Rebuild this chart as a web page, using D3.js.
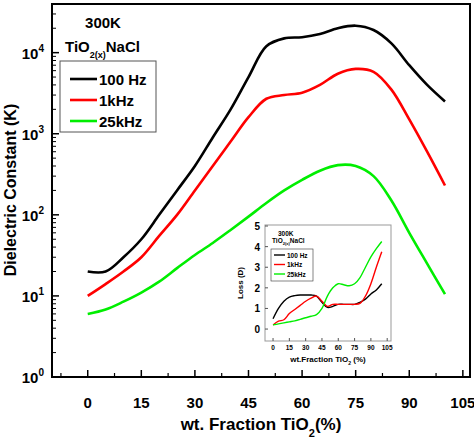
<!DOCTYPE html><html><head><meta charset="utf-8"><script src="https://d3js.org/d3.v7.min.js"></script>
<style>body{margin:0;background:#fff}text{font-family:Arial,"Liberation Sans",sans-serif;font-weight:bold}</style></head><body><svg id="c" width="474" height="444"></svg>
<script>
const xs=[0,5,10,15,20,25,30,35,40,45,50,55,60,65,70,75,80,85,90,95,100];
const k100=[20,20,30,50,100,200,400,900,2000,5000,12000,15000,15500,17000,20000,21500,19000,13000,7000,4000,2500];
const k1k=[10,14,20,30,55,100,200,400,800,1600,2700,3000,3200,4000,5500,6300,5800,3500,1500,600,230];
const k25k=[6,6.8,8.5,11,15,22,32,45,65,95,140,200,270,350,410,400,300,150,60,25,10.5];
const l100=[0.5,1.0,1.35,1.55,1.62,1.65,1.65,1.65,1.6,1.3,1.05,1.1,1.2,1.2,1.2,1.2,1.3,1.45,1.7,1.9,2.2];
const l1k=[0.2,0.38,0.45,0.75,0.95,1.15,1.35,1.5,1.6,1.35,1.1,1.2,1.2,1.2,1.2,1.2,1.25,1.6,2.2,3.0,3.75];
const l25k=[0.2,0.25,0.3,0.35,0.4,0.47,0.55,0.62,0.7,1.0,1.6,2.0,2.2,2.15,2.1,2.2,2.5,3.0,3.5,3.9,4.25];
const names=["100 Hz","1kHz","25kHz"],cols=["#000","#f00","#0e0"];
const xTicks=[0,15,30,45,60,75,90,105];
const svg=d3.select("#c");
const L=52,R=470,T=4,B=377;
const x=d3.scaleLinear().domain([-10,107]).range([L,R]);
const y=d3.scaleLog().domain([1,Math.pow(10,4.6)]).range([B,T]);
const g=svg.append("g");
g.append("rect").attr("x",L).attr("y",T).attr("width",R-L).attr("height",B-T).attr("fill","none").attr("stroke","#000").attr("stroke-width",2);
xTicks.forEach(t=>{g.append("line").attr("x1",x(t)).attr("x2",x(t)).attr("y1",B).attr("y2",B-7).attr("stroke","#000").attr("stroke-width",1.5);
 g.append("text").attr("x",x(t)).attr("y",B+31).attr("text-anchor","middle").attr("font-size",15).text(t);});
d3.range(-7.5,107,15).forEach(t=>g.append("line").attr("x1",x(t)).attr("x2",x(t)).attr("y1",B).attr("y2",B-4).attr("stroke","#000").attr("stroke-width",1.2));
for(let e=0;e<=4;e++){g.append("line").attr("x1",L).attr("x2",L+7).attr("y1",y(10**e)).attr("y2",y(10**e)).attr("stroke","#000").attr("stroke-width",1.5);
 const t=g.append("text").attr("x",L-8).attr("y",y(10**e)+6).attr("text-anchor","end").attr("font-size",15);t.append("tspan").text("10");t.append("tspan").attr("dy",-7).attr("font-size",10).text(e);
 for(let m=2;m<10;m++){const v=m*10**e;if(y(v)>T)g.append("line").attr("x1",L).attr("x2",L+4).attr("y1",y(v)).attr("y2",y(v)).attr("stroke","#000");}}
const xl=g.append("text").attr("x",261).attr("y",430).attr("text-anchor","middle").attr("font-size",17);
xl.append("tspan").text("wt. Fraction TiO");xl.append("tspan").attr("dy",7).attr("font-size",11).text("2");xl.append("tspan").attr("dy",-7).text("(%)");
g.append("text").attr("transform","translate(16,190) rotate(-90)").attr("text-anchor","middle").attr("font-size",16).text("Dielectric Constant (K)");
const line=d3.line().x((d,i)=>x(xs[i])).y(d=>y(d)).curve(d3.curveCatmullRom);
[k100,k1k,k25k].forEach((s,i)=>g.append("path").attr("d",line(s)).attr("fill","none").attr("stroke",cols[i]).attr("stroke-width",2.6));
g.append("text").attr("x",103).attr("y",28).attr("text-anchor","middle").attr("font-size",15).text("300K");
const tt=g.append("text").attr("x",65).attr("y",52).attr("font-size",15);tt.append("tspan").text("TiO");tt.append("tspan").attr("dy",6).attr("font-size",9).text("2(x)");tt.append("tspan").attr("dy",-6).text("NaCl");
g.append("rect").attr("x",60).attr("y",61).attr("width",96).attr("height",71).attr("fill","#fff").attr("stroke","#555");
names.forEach((n,i)=>{const yy=79+i*21;g.append("line").attr("x1",70).attr("x2",97).attr("y1",yy).attr("y2",yy).attr("stroke",cols[i]).attr("stroke-width",2.6);
 g.append("text").attr("x",99).attr("y",yy+6).attr("font-size",15).text(n);});
const iL=265,iR=391,iT=225,iB=341;
const ix=d3.scaleLinear().domain([-7.4,108.5]).range([iL,iR]);
const iy=d3.scaleLinear().domain([-0.58,5.05]).range([iB,iT]);
const h=svg.append("g");
h.append("rect").attr("x",iL).attr("y",iT).attr("width",iR-iL).attr("height",iB-iT).attr("fill","#fff").attr("stroke","#999");
xTicks.forEach(t=>{h.append("line").attr("x1",ix(t)).attr("x2",ix(t)).attr("y1",iB).attr("y2",iB-3).attr("stroke","#555");
 h.append("text").attr("x",ix(t)).attr("y",iB+9).attr("text-anchor","middle").attr("font-size",6.5).attr("font-weight","normal").text(t);});
[0,1,2,3,4,5].forEach(t=>{h.append("line").attr("x1",iL).attr("x2",iL+3).attr("y1",iy(t)).attr("y2",iy(t)).attr("stroke","#555");
 h.append("text").attr("x",iL-5).attr("y",iy(t)+4).attr("text-anchor","end").attr("font-size",10).text(t);});
h.append("text").attr("transform",`translate(${iL-22},${(iT+iB)/2}) rotate(-90)`).attr("text-anchor","middle").attr("font-size",8).text("Loss (D)");
const il=h.append("text").attr("x",(iL+iR)/2).attr("y",iB+21).attr("text-anchor","middle").attr("font-size",8);
il.append("tspan").text("wt.Fraction TiO");il.append("tspan").attr("dy",3).attr("font-size",5).text("2");il.append("tspan").attr("dy",-3).text(" (%)");
const iline=d3.line().x((d,i)=>ix(xs[i])).y(d=>iy(d)).curve(d3.curveCatmullRom);
[l100,l1k,l25k].forEach((s,i)=>h.append("path").attr("d",iline(s)).attr("fill","none").attr("stroke",cols[i]).attr("stroke-width",1.4));
h.append("text").attr("x",278).attr("y",236).attr("font-size",6.5).attr("font-weight","normal").text("300K");
const it=h.append("text").attr("x",272).attr("y",243).attr("font-size",6.5);it.append("tspan").text("TiO");it.append("tspan").attr("dy",2).attr("font-size",4).text("2(x)");it.append("tspan").attr("dy",-2).text("NaCl");
h.append("rect").attr("x",271).attr("y",249).attr("width",42).attr("height",32).attr("fill","#fff").attr("stroke","#333").attr("stroke-width",0.6);
names.forEach((n,i)=>{const yy=255+i*9.5;h.append("line").attr("x1",274).attr("x2",285).attr("y1",yy).attr("y2",yy).attr("stroke",cols[i]).attr("stroke-width",1.4);
 h.append("text").attr("x",287).attr("y",yy+2.5).attr("font-size",6.5).text(n);});
</script></body></html>
